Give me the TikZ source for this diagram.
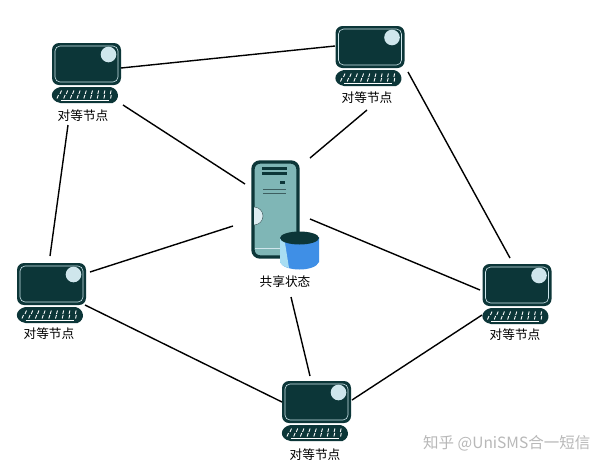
\documentclass[tikz,border=0pt]{standalone}
\usepackage{fontspec}
\newfontfamily\cjk{Noto Sans CJK SC}
\definecolor{dk}{HTML}{0C3638}
\definecolor{pale}{HTML}{CFE6EC}
\definecolor{srv}{HTML}{7FB6B6}
\definecolor{blu}{HTML}{3F8FE6}
\definecolor{lblu}{HTML}{A8DDF2}
\tikzset{
  link/.style={draw=black,line width=1.4pt},
  lab/.style={font=\cjk\fontsize{12.7}{13}\selectfont,inner sep=0pt,text=black},
  body/.style={minimum width=68pt,minimum height=60pt,inner sep=0pt},
  pics/pc/.style={code={
    % origin = centre of the screen
    \fill[dk,rounded corners=7pt] (-34.5,-21) rectangle (34.5,21);
    \draw[pale,line width=.6pt,rounded corners=5pt] (-31.5,-18) rectangle (31.5,18);
    \fill[pale] (22,-9.5) circle (7.8);
    \fill[dk] (-26,23) -- (24,23) .. controls (33,25) and (34,36) .. (26,39) -- (-26,39) .. controls (-38,37) and (-37,25) .. (-26,23) -- cycle;
    \foreach \i in {0,...,8}{
      \draw[white,line width=.9pt] ({-25+\i*6.2},26.5) -- ({-26.5+\i*6.3},30);
      \draw[white,line width=.9pt] ({-28+\i*6.6},31) -- ({-29.5+\i*6.7},34.5);
    }
    \draw[white,line width=.8pt] (-26,36) -- (22,36);
  }}
}
\begin{document}
\begin{tikzpicture}[x=1pt,y=-1pt]
\useasboundingbox[fill=white] (0,0) rectangle (600,472);
% computers
\node[body] (p1) at (86,72) {}; \pic at (86.5,64) {pc};
\node[body] (p2) at (370,55) {}; \pic at (370,47) {pc};
\node[body] (p3) at (52,292) {}; \pic at (51.5,284) {pc};
\node[body] (p4) at (517,293) {}; \pic at (517,285) {pc};
\node[body] (p5) at (317,410) {}; \pic at (316.5,402) {pc};
\node[lab] (l1) at (83,116) {\cjk 对等节点};
\node[lab] (l2) at (367,98) {\cjk 对等节点};
\node[lab] (l3) at (49,334) {\cjk 对等节点};
\node[lab] (l4) at (515,335) {\cjk 对等节点};
\node[lab] (l5) at (315,455) {\cjk 对等节点};
% server
\node[minimum width=45pt,minimum height=95pt,inner sep=0pt,rounded corners=7pt,draw=dk,line width=3.4pt,fill=srv] (srv) at (275.5,209.5) {};
\fill[dk] (262,167) rectangle (287,169.5);
\fill[dk] (262,172) rectangle (287,174.5);
\fill[dk] (280,181) rectangle (285,183.5);
\foreach \yy in {189,193}{\draw[dk!80,line width=1pt] (263,\yy) -- (286,\yy);}
\fill[pale!70!white] (254,207) arc[start angle=-90,end angle=90,radius=9] -- cycle;
\draw[dk!70,line width=.6pt] (254,207) arc[start angle=-90,end angle=90,radius=9];
\draw[pale,line width=.7pt] (255,248) -- (296,248);
% cylinder
\fill[blu] (280,237) -- (280,262) .. controls (284,272) and (315,272) .. (319,262) -- (319,237) -- cycle;
\fill[lblu] (280,237) -- (280,262) .. controls (281,265) and (285,267) .. (289,268) -- (285,243) -- cycle;
\fill[dk] (299.5,238) ellipse (19.5 and 6.5);
\node[lab] (sl) at (285,282) {\cjk 共享状态};
% free ends of the connectors
\coordinate (a12) at (121,68); \coordinate (a21) at (335,46);
\coordinate (a24) at (408,72); \coordinate (a42) at (510,258);
\coordinate (a13) at (68,125); \coordinate (a31) at (50,256);
\coordinate (a1s) at (123,105); \coordinate (as1) at (245,184);
\coordinate (a2s) at (367,110); \coordinate (as2) at (310,158);
\coordinate (a3s) at (90,272); \coordinate (as3) at (233,226);
\coordinate (a4s) at (480,290); \coordinate (as4) at (310,219);
\coordinate (a35) at (85,305); \coordinate (a53) at (282,402);
\coordinate (a54) at (352,400); \coordinate (a45) at (482,315);
\coordinate (as5) at (291,297); \coordinate (a5s) at (310,376);
\foreach \u/\v in {a12/a21,a24/a42,a13/a31,a1s/as1,a2s/as2,a3s/as3,a4s/as4,a35/a53,a54/a45,as5/a5s}
  \draw[link] (\u) -- (\v);
% watermark
\node[font=\cjk\fontsize{15.5}{16}\selectfont,text=black!28,inner sep=0pt,anchor=west] (wm) at (423,443) {知乎 @UniSMS合一短信};
\end{tikzpicture}
\end{document}
